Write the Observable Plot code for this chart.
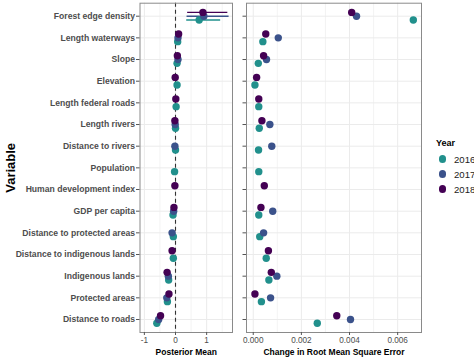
<!DOCTYPE html>
<html>
<head>
<meta charset="utf-8">
<script src="https://cdn.jsdelivr.net/npm/d3@7"></script>
<script src="https://cdn.jsdelivr.net/npm/@observablehq/plot@0.6"></script>
<style>
html, body { margin: 0; padding: 0; background: #fff; }
#wrap { position: relative; width: 474px; height: 357px; overflow: hidden; font-family: "Liberation Sans", Arial, sans-serif; }
#left, #right { position: absolute; top: 0; }
#left { left: 0; }
#right { left: 236px; }
g[aria-label="x-axis label"] text { font-weight: bold; fill: #000; font-size: 8.5px; }
g[aria-label="y-axis label"] text { font-weight: bold; fill: #000; font-size: 13px; }
g[aria-label="y-axis tick label"] text { font-weight: bold; fill: #4d4d4d; font-size: 8.6px; }
g[aria-label="x-axis tick label"] text { fill: #4d4d4d; font-size: 8.2px; }
#legend { position: absolute; left: 436px; top: 137px; font-size: 9px; color: #000; }
#legend .lt { font-weight: bold; height: 12px; line-height: 12px; margin-bottom: 2.5px; }
#legend .li { height: 15px; line-height: 15px; display: flex; align-items: center; white-space: nowrap; color: #222; font-size: 9.6px; }
#legend .sw { display: inline-block; width: 7.4px; height: 7.4px; border-radius: 50%; margin-left: 2.6px; margin-right: 8px; }
</style>
</head>
<body>
<div id="wrap">
  <div id="left"></div>
  <div id="right"></div>
  <div id="legend"></div>
</div>
<script>
// ---- Data ----
const variables = [
  "Forest edge density", "Length waterways", "Slope", "Elevation", "Length federal roads",
  "Length rivers", "Distance to rivers", "Population", "Human development index", "GDP per capita",
  "Distance to protected areas", "Distance to indigenous lands", "Indigenous lands", "Protected areas", "Distance to roads"
];
const years = ["2016", "2017", "2018"];
const yearColors = ["#21908C", "#3B528B", "#440154"];

// Posterior mean
const mean2016 = [0.76, 0.07, 0.05, 0.05, 0.02, 0.00, 0.00, -0.03, null, -0.08, -0.07, -0.07, -0.22, -0.26, -0.60];
const mean2017 = [0.91, 0.08, 0.08, null, null, -0.01, -0.02, null, null, -0.06, -0.11, null, -0.23, -0.28, -0.54];
const mean2018 = [0.88, 0.10, 0.06, -0.01, 0.01, -0.02, null, null, -0.02, -0.05, null, -0.11, -0.27, -0.21, -0.48];
// Credible interval bounds
const low2016 = [0.36, 0.04, 0.02, 0.02, -0.01, -0.03, -0.03, -0.06, null, -0.11, -0.10, -0.10, -0.25, -0.29, -0.64];
const high2016 = [1.45, 0.10, 0.08, 0.08, 0.05, 0.03, 0.03, 0.00, null, -0.05, -0.04, -0.04, -0.19, -0.23, -0.56];
const low2017 = [0.37, 0.05, 0.05, null, null, -0.04, -0.05, null, null, -0.09, -0.14, null, -0.26, -0.31, -0.58];
const high2017 = [1.72, 0.11, 0.11, null, null, 0.02, 0.01, null, null, -0.03, -0.08, null, -0.20, -0.25, -0.50];
const low2018 = [0.39, 0.07, 0.03, -0.04, -0.02, -0.05, null, null, -0.05, -0.08, null, -0.14, -0.30, -0.24, -0.52];
const high2018 = [1.68, 0.13, 0.09, 0.02, 0.04, 0.01, null, null, 0.01, -0.02, null, -0.08, -0.24, -0.18, -0.44];

// Change in RMSE
const rmse2016 = [0.00665, 0.00040, 0.00021, 0.00007, 0.00023, 0.00025, 0.00022, 0.00023, null, 0.00023, 0.00027, 0.00054, 0.00065, 0.00034, 0.00266];
const rmse2017 = [0.00429, 0.00104, 0.00055, null, null, 0.00069, 0.00077, null, null, 0.00081, 0.00043, null, 0.00098, 0.00072, 0.00404];
const rmse2018 = [0.00409, 0.00052, 0.00043, 0.00014, 0.00023, 0.00036, null, null, 0.00046, 0.00032, null, 0.00063, 0.00075, 0.00007, 0.00347];

const leftTicks = [-1, 0, 1];
const leftMinor = [-0.5, 0.5, 1.5];
const rightTicks = [0, 0.002, 0.004, 0.006];
const rightMinor = [0.001, 0.003, 0.005];

// ---- Build tables ----
const byYear = {
  "2016": {mean: mean2016, lo: low2016, hi: high2016, rmse: rmse2016},
  "2017": {mean: mean2017, lo: low2017, hi: high2017, rmse: rmse2017},
  "2018": {mean: mean2018, lo: low2018, hi: high2018, rmse: rmse2018}
};
function rowsFor(yr, key) {
  const s = byYear[yr];
  return variables.map((v, i) => ({variable: v, year: yr, mean: s.mean[i], lo: s.lo[i], hi: s.hi[i], rmse: s.rmse[i]}))
    .filter(d => d[key] != null);
}
const dodge = {"2016": 3.8, "2017": 0, "2018": -3.8};
const colorOf = yr => yearColors[years.indexOf(yr)];

const yScale = {type: "point", domain: variables, padding: 0.6, round: false};
const baseStyle = {fontFamily: "Liberation Sans, Arial, sans-serif", fontSize: "8.5px", color: "#4d4d4d", background: "white", overflow: "visible"};

// ---- Left panel: posterior mean ----
const leftMarks = [
  Plot.gridX({ticks: leftMinor, stroke: "#ebebeb", strokeOpacity: 1, strokeWidth: 0.6}),
  Plot.gridX({ticks: leftTicks, stroke: "#ebebeb", strokeOpacity: 1, strokeWidth: 1}),
  Plot.gridY({stroke: "#ebebeb", strokeOpacity: 1, strokeWidth: 1}),
  Plot.ruleX([0], {stroke: "#333", strokeWidth: 1.1, strokeDasharray: "4,3"})
];
for (const yr of years) {
  leftMarks.push(Plot.ruleY(rowsFor(yr, "lo"), {y: "variable", x1: "lo", x2: "hi", stroke: colorOf(yr), strokeWidth: 1.4, dy: dodge[yr]}));
}
for (const yr of years) {
  leftMarks.push(Plot.dot(rowsFor(yr, "mean"), {x: "mean", y: "variable", fill: colorOf(yr), r: 3.7, dy: dodge[yr]}));
}
leftMarks.push(Plot.frame({stroke: "#8a8a8a", strokeWidth: 1}));
leftMarks.push(Plot.axisX({ticks: leftTicks, tickSize: 3, tickPadding: 2, stroke: "#555", tickFormat: d => String(d),
  label: "Posterior Mean", labelAnchor: "center", labelArrow: "none"}));
leftMarks.push(Plot.axisY({tickSize: 3.5, tickPadding: 1.5, stroke: "#555",
  label: "Variable", labelAnchor: "center", labelArrow: "none", labelOffset: 134}));

const left = Plot.plot({
  width: 236, height: 357,
  marginLeft: 139.5, marginRight: 4, marginTop: 2.7, marginBottom: 25,
  x: {domain: [-1.14, 1.83]},
  y: yScale,
  style: baseStyle,
  marks: leftMarks
});
document.getElementById("left").appendChild(left);

// ---- Right panel: change in RMSE ----
const rightMarks = [
  Plot.gridX({ticks: rightMinor, stroke: "#ebebeb", strokeOpacity: 1, strokeWidth: 0.6}),
  Plot.gridX({ticks: rightTicks, stroke: "#ebebeb", strokeOpacity: 1, strokeWidth: 1}),
  Plot.gridY({stroke: "#ebebeb", strokeOpacity: 1, strokeWidth: 1})
];
for (const yr of years) {
  rightMarks.push(Plot.dot(rowsFor(yr, "rmse"), {x: "rmse", y: "variable", fill: colorOf(yr), r: 3.7, dy: dodge[yr]}));
}
rightMarks.push(Plot.frame({stroke: "#8a8a8a", strokeWidth: 1}));
rightMarks.push(Plot.axisX({ticks: rightTicks, tickSize: 3, tickPadding: 2, stroke: "#555", tickFormat: d3.format(".3f"),
  label: "Change in Root Mean Square Error", labelAnchor: "center", labelArrow: "none"}));
rightMarks.push(Plot.axisY({tickSize: 3.5, stroke: "#555", tickFormat: () => "", label: null}));

const right = Plot.plot({
  width: 238, height: 357,
  marginLeft: 10, marginRight: 53, marginTop: 2.7, marginBottom: 25,
  x: {domain: [-0.00028, 0.00699]},
  y: yScale,
  style: baseStyle,
  marks: rightMarks
});
document.getElementById("right").appendChild(right);

// ---- Legend ----
const legend = d3.select("#legend");
legend.append("div").attr("class", "lt").text("Year");
years.forEach((yr, i) => {
  const item = legend.append("div").attr("class", "li");
  item.append("span").attr("class", "sw").style("background", yearColors[i]);
  item.append("span").text(yr);
});
</script>
</body>
</html>
